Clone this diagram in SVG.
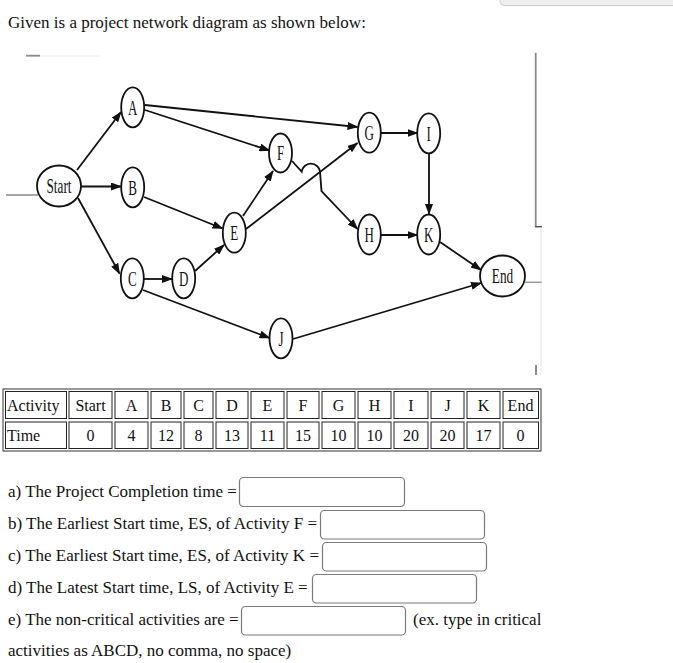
<svg xmlns="http://www.w3.org/2000/svg" width="673" height="663" viewBox="0 0 673 663">
<style>
.t{font-family:"Liberation Serif","Times New Roman",serif;font-size:17px;fill:#111}
.tb{font-family:"Liberation Serif","Times New Roman",serif;font-size:16px;fill:#111}
.lbl{font-family:"Liberation Serif","Times New Roman",serif;font-size:21px;fill:#111;text-anchor:middle}
.node ellipse{fill:#fff;stroke:#111;stroke-width:1.8}
.edges path,.edges line{fill:none;stroke:#111;stroke-width:1.8}
.cell{fill:#fff;stroke:#222;stroke-width:1}
.box{fill:#fff;stroke:#7a7a7a;stroke-width:1.2}
.frame{stroke:#8a8a8a;stroke-width:1.8;fill:none}
</style>
<defs>
<marker id="ah" markerUnits="userSpaceOnUse" markerWidth="11" markerHeight="8" refX="10" refY="4" orient="auto">
<path d="M0,0 L11,4 L0,8 z" fill="#111"/>
</marker>
</defs>
<rect width="673" height="663" fill="#fff"/>

<!-- screenshot frame remnants -->
<rect x="500" y="-6" width="185" height="11.5" rx="4" fill="#eeeeee" stroke="#cfcfcf"/>
<line x1="26" y1="55.7" x2="40" y2="55.7" class="frame"/>
<line x1="40" y1="56" x2="100" y2="56" stroke="#ececec" stroke-width="1"/>
<line x1="535.7" y1="52.7" x2="535.7" y2="226.7" class="frame"/>
<line x1="535" y1="226.7" x2="542" y2="226.7" stroke="#555" stroke-width="1.5"/>
<line x1="541" y1="228" x2="541" y2="375" stroke="#e6e6e6" stroke-width="1"/>
<line x1="6" y1="195" x2="38" y2="195" stroke="#8a8a8a" stroke-width="1.5"/>
<line x1="525" y1="282.3" x2="541.7" y2="282.3" stroke="#999" stroke-width="1.5"/>
<line x1="536" y1="365" x2="536" y2="375" stroke="#666" stroke-width="1.5"/>

<text class="t" x="8" y="28">Given is a project network diagram as shown below:</text>

<!-- connectors -->
<g id="connectors" class="edges">
<line x1="77" y1="170" x2="121" y2="112" marker-end="url(#ah)"/>
<line x1="81" y1="186.5" x2="121" y2="186.5" marker-end="url(#ah)"/>
<line x1="78" y1="198" x2="119.5" y2="273.5" marker-end="url(#ah)"/>
<line x1="145" y1="105" x2="357.5" y2="127" marker-end="url(#ah)"/>
<line x1="145" y1="110" x2="269.5" y2="150.5" marker-end="url(#ah)"/>
<line x1="144" y1="197" x2="222.5" y2="228.5" marker-end="url(#ah)"/>
<line x1="243" y1="216" x2="273" y2="171" marker-end="url(#ah)"/>
<line x1="246" y1="229" x2="357.5" y2="143" marker-end="url(#ah)"/>
<line x1="144" y1="279" x2="172" y2="279" marker-end="url(#ah)"/>
<line x1="195" y1="271" x2="224" y2="245" marker-end="url(#ah)"/>
<line x1="143" y1="290" x2="269.5" y2="338" marker-end="url(#ah)"/>
<line x1="293" y1="339" x2="481" y2="283" marker-end="url(#ah)"/>
<line x1="440" y1="242" x2="481" y2="270" marker-end="url(#ah)"/>
<line x1="381" y1="133" x2="417.5" y2="133" marker-end="url(#ah)"/>
<line x1="429" y1="153.5" x2="429" y2="214" marker-end="url(#ah)"/>
<line x1="381" y1="235" x2="417.5" y2="235" marker-end="url(#ah)"/>
<path d="M292,161 L301.7,171.7 A9.2,9 0 0 1 320,171.7 L321.5,191 L357.5,229" marker-end="url(#ah)"/>
</g>

<!-- nodes -->
<g id="node-start" class="node"><ellipse cx="59" cy="186" rx="22" ry="20.5"/><text class="lbl" transform="translate(59,193) scale(0.63,1)">Start</text></g>
<g id="node-A" class="node"><ellipse cx="132.7" cy="107.3" rx="11.5" ry="20"/><text class="lbl" transform="translate(132.7,114.5) scale(0.62,1)">A</text></g>
<g id="node-B" class="node"><ellipse cx="132.7" cy="187.3" rx="11.5" ry="20"/><text class="lbl" transform="translate(132.7,194.5) scale(0.62,1)">B</text></g>
<g id="node-C" class="node"><ellipse cx="132.3" cy="278.3" rx="11.5" ry="20"/><text class="lbl" transform="translate(132.3,285.5) scale(0.62,1)">C</text></g>
<g id="node-D" class="node"><ellipse cx="183.7" cy="278.3" rx="11.5" ry="20"/><text class="lbl" transform="translate(183.7,285.5) scale(0.62,1)">D</text></g>
<g id="node-E" class="node"><ellipse cx="234.3" cy="232.7" rx="11.5" ry="20"/><text class="lbl" transform="translate(234.3,240) scale(0.62,1)">E</text></g>
<g id="node-F" class="node"><ellipse cx="280.5" cy="153" rx="11.5" ry="19.5"/><text class="lbl" transform="translate(280.5,160) scale(0.62,1)">F</text></g>
<g id="node-G" class="node"><ellipse cx="369.3" cy="132.7" rx="11.5" ry="20"/><text class="lbl" transform="translate(369.3,140) scale(0.62,1)">G</text></g>
<g id="node-I" class="node"><ellipse cx="428.7" cy="133.3" rx="11.5" ry="20"/><text class="lbl" transform="translate(428.7,140.5) scale(0.62,1)">I</text></g>
<g id="node-H" class="node"><ellipse cx="369.3" cy="234.5" rx="11.5" ry="20"/><text class="lbl" transform="translate(369.3,241.7) scale(0.62,1)">H</text></g>
<g id="node-K" class="node"><ellipse cx="428.7" cy="234.5" rx="11.5" ry="20"/><text class="lbl" transform="translate(428.7,241.7) scale(0.62,1)">K</text></g>
<g id="node-J" class="node"><ellipse cx="281" cy="338.3" rx="11.5" ry="20"/><text class="lbl" transform="translate(281,345.5) scale(0.62,1)">J</text></g>
<g id="node-end" class="node"><ellipse cx="502.5" cy="276" rx="22.5" ry="20.5"/><text class="lbl" transform="translate(502.5,283.2) scale(0.63,1)">End</text></g>

<!-- table -->
<g id="table">
<rect x="3" y="389" width="538" height="62" fill="#fff" stroke="#333" stroke-width="1"/>
<g class="cell">
<rect x="5.5" y="391.5" width="61" height="27"/><rect x="5.5" y="422" width="61" height="26.5"/>
<rect x="69" y="391.5" width="43" height="27"/><rect x="69" y="422" width="43" height="26.5"/>
<rect x="115" y="391.5" width="33" height="27"/><rect x="115" y="422" width="33" height="26.5"/>
<rect x="151" y="391.5" width="30" height="27"/><rect x="151" y="422" width="30" height="26.5"/>
<rect x="184" y="391.5" width="29" height="27"/><rect x="184" y="422" width="29" height="26.5"/>
<rect x="216" y="391.5" width="32" height="27"/><rect x="216" y="422" width="32" height="26.5"/>
<rect x="251" y="391.5" width="33" height="27"/><rect x="251" y="422" width="33" height="26.5"/>
<rect x="287" y="391.5" width="32" height="27"/><rect x="287" y="422" width="32" height="26.5"/>
<rect x="322" y="391.5" width="33" height="27"/><rect x="322" y="422" width="33" height="26.5"/>
<rect x="358" y="391.5" width="33" height="27"/><rect x="358" y="422" width="33" height="26.5"/>
<rect x="394" y="391.5" width="34" height="27"/><rect x="394" y="422" width="34" height="26.5"/>
<rect x="431" y="391.5" width="33" height="27"/><rect x="431" y="422" width="33" height="26.5"/>
<rect x="467" y="391.5" width="33" height="27"/><rect x="467" y="422" width="33" height="26.5"/>
<rect x="503" y="391.5" width="35.5" height="27"/><rect x="503" y="422" width="35.5" height="26.5"/>
</g>
<text class="tb" x="7" y="410.5">Activity</text>
<text class="tb" x="7" y="441">Time</text>
<g class="tb" text-anchor="middle">
<text x="90.5" y="410.5">Start</text><text x="90.5" y="441">0</text>
<text x="131.5" y="410.5">A</text><text x="131.5" y="441">4</text>
<text x="166" y="410.5">B</text><text x="166" y="441">12</text>
<text x="198.5" y="410.5">C</text><text x="198.5" y="441">8</text>
<text x="232" y="410.5">D</text><text x="232" y="441">13</text>
<text x="267.5" y="410.5">E</text><text x="267.5" y="441">11</text>
<text x="303" y="410.5">F</text><text x="303" y="441">15</text>
<text x="338.5" y="410.5">G</text><text x="338.5" y="441">10</text>
<text x="374.5" y="410.5">H</text><text x="374.5" y="441">10</text>
<text x="411" y="410.5">I</text><text x="411" y="441">20</text>
<text x="447.5" y="410.5">J</text><text x="447.5" y="441">20</text>
<text x="483.5" y="410.5">K</text><text x="483.5" y="441">17</text>
<text x="520.5" y="410.5">End</text><text x="520.5" y="441">0</text>
</g>
</g>

<!-- questions -->
<g id="questions">
<text class="t" x="8" y="497">a) The Project Completion time =</text>
<rect class="box" x="239.5" y="477.5" width="165" height="29" rx="4"/>
<text class="t" x="8" y="529">b) The Earliest Start time, ES, of Activity F =</text>
<rect class="box" x="320.5" y="510.5" width="164" height="28.5" rx="4"/>
<text class="t" x="8" y="561">c) The Earliest Start time, ES, of Activity K =</text>
<rect class="box" x="322.5" y="542.5" width="164" height="28.5" rx="4"/>
<text class="t" x="8" y="593">d) The Latest Start time, LS, of Activity E =</text>
<rect class="box" x="312.5" y="574.5" width="164" height="28.5" rx="4"/>
<text class="t" x="8" y="625">e) The non-critical activities are =</text>
<rect class="box" x="241.5" y="606.5" width="164" height="28.5" rx="4"/>
<text class="t" x="413" y="625">(ex. type in critical</text>
<text class="t" x="8" y="656">activities as ABCD, no comma, no space)</text>
</g>
</svg>
